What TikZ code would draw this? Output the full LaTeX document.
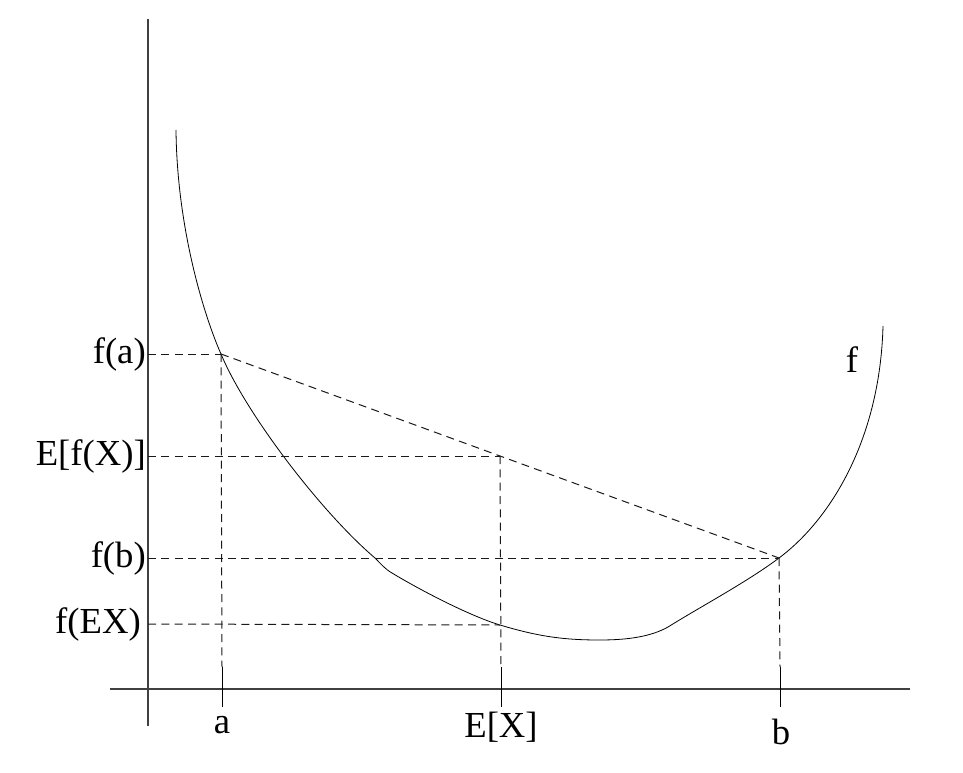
\documentclass[tikz,border=0pt]{standalone}
\usepackage{fontspec}
\setmainfont{Liberation Serif}
\usetikzlibrary{positioning}

\begin{document}
\begin{tikzpicture}[
  x=0.75pt, y=-0.75pt,
  axis/.style={draw=black!75, line width=0.8pt},
  guide/.style={draw=black!90, line width=0.75pt, dash pattern=on 6pt off 4pt},
  tick/.style={draw=black, line width=0.6pt},
  curve/.style={draw=black, line width=0.6pt},
  lbl/.style={font=\fontsize{27.5}{32}\selectfont, inner sep=0pt}
]
\useasboundingbox (0,0) rectangle (963,773);

% axes
\coordinate (ytop) at (148,19);
\coordinate (ybot) at (148,726);
\coordinate (xleft) at (110,689);
\coordinate (xright) at (910,689);
\draw[axis] (ytop) -- (ybot);
\draw[axis] (xleft) -- (xright);

% points on the curve
\coordinate (pa) at (221,354);
\coordinate (pb) at (779,558);
\coordinate (pm) at (500,456);
\coordinate (pe) at (500,625);
\coordinate (ctop) at (176,130);
\coordinate (cend) at (883,326);
\coordinate (k1) at (375,558);
\coordinate (k2) at (392,573);
\coordinate (cmin) at (600,640);
\coordinate (k3) at (668,627);

% the function
\draw[curve] (ctop) .. controls (177,230) and (205,318) .. (pa)
  .. controls (246,414) and (322,513) .. (k1)
  .. controls (381,564) and (385,569) .. (k2)
  .. controls (420,590) and (470,616) .. (pe)
  .. controls (540,637) and (565,640) .. (cmin)
  .. controls (630,640) and (652,636) .. (k3)
  .. controls (700,607) and (747,582) .. (pb)
  .. controls (830,520) and (880,440) .. (cend);

% ticks
\coordinate (ta) at (222,667);
\coordinate (tm) at (501,667);
\coordinate (tb) at (780,667);
\draw[tick] (ta) -- (222,707);
\draw[tick] (tm) -- (501,707);
\draw[tick] (tb) -- (780,707);

% dashed guides
\draw[guide] (148,354) -- (pa);
\draw[guide] (148,456) -- (pm);
\draw[guide] (148,558) -- (pb);
\draw[guide] (148,624) -- (pe);
\draw[guide] (pa) -- (ta);
\draw[guide] (pm) -- (tm);
\draw[guide] (pb) -- (tb);
\draw[guide] (pa) -- (pb);

% labels
\node[lbl, anchor=east] (lfa) at (146,354) {f(a)};
\node[lbl, anchor=east] (lef) at (146,456) {E[f(X)]};
\node[lbl, anchor=east] (lfb) at (146,558) {f(b)};
\node[lbl, anchor=east] (lfe) at (141,624) {f(EX)};
\node[lbl, anchor=base] (la) at (222,733) {a};
\node[lbl, anchor=base] (lm) at (501,737) {E[X]};
\node[lbl, anchor=base] (lb) at (781,744) {b};
\node[lbl] (lf) at (852,360) {f};
\end{tikzpicture}
\end{document}
